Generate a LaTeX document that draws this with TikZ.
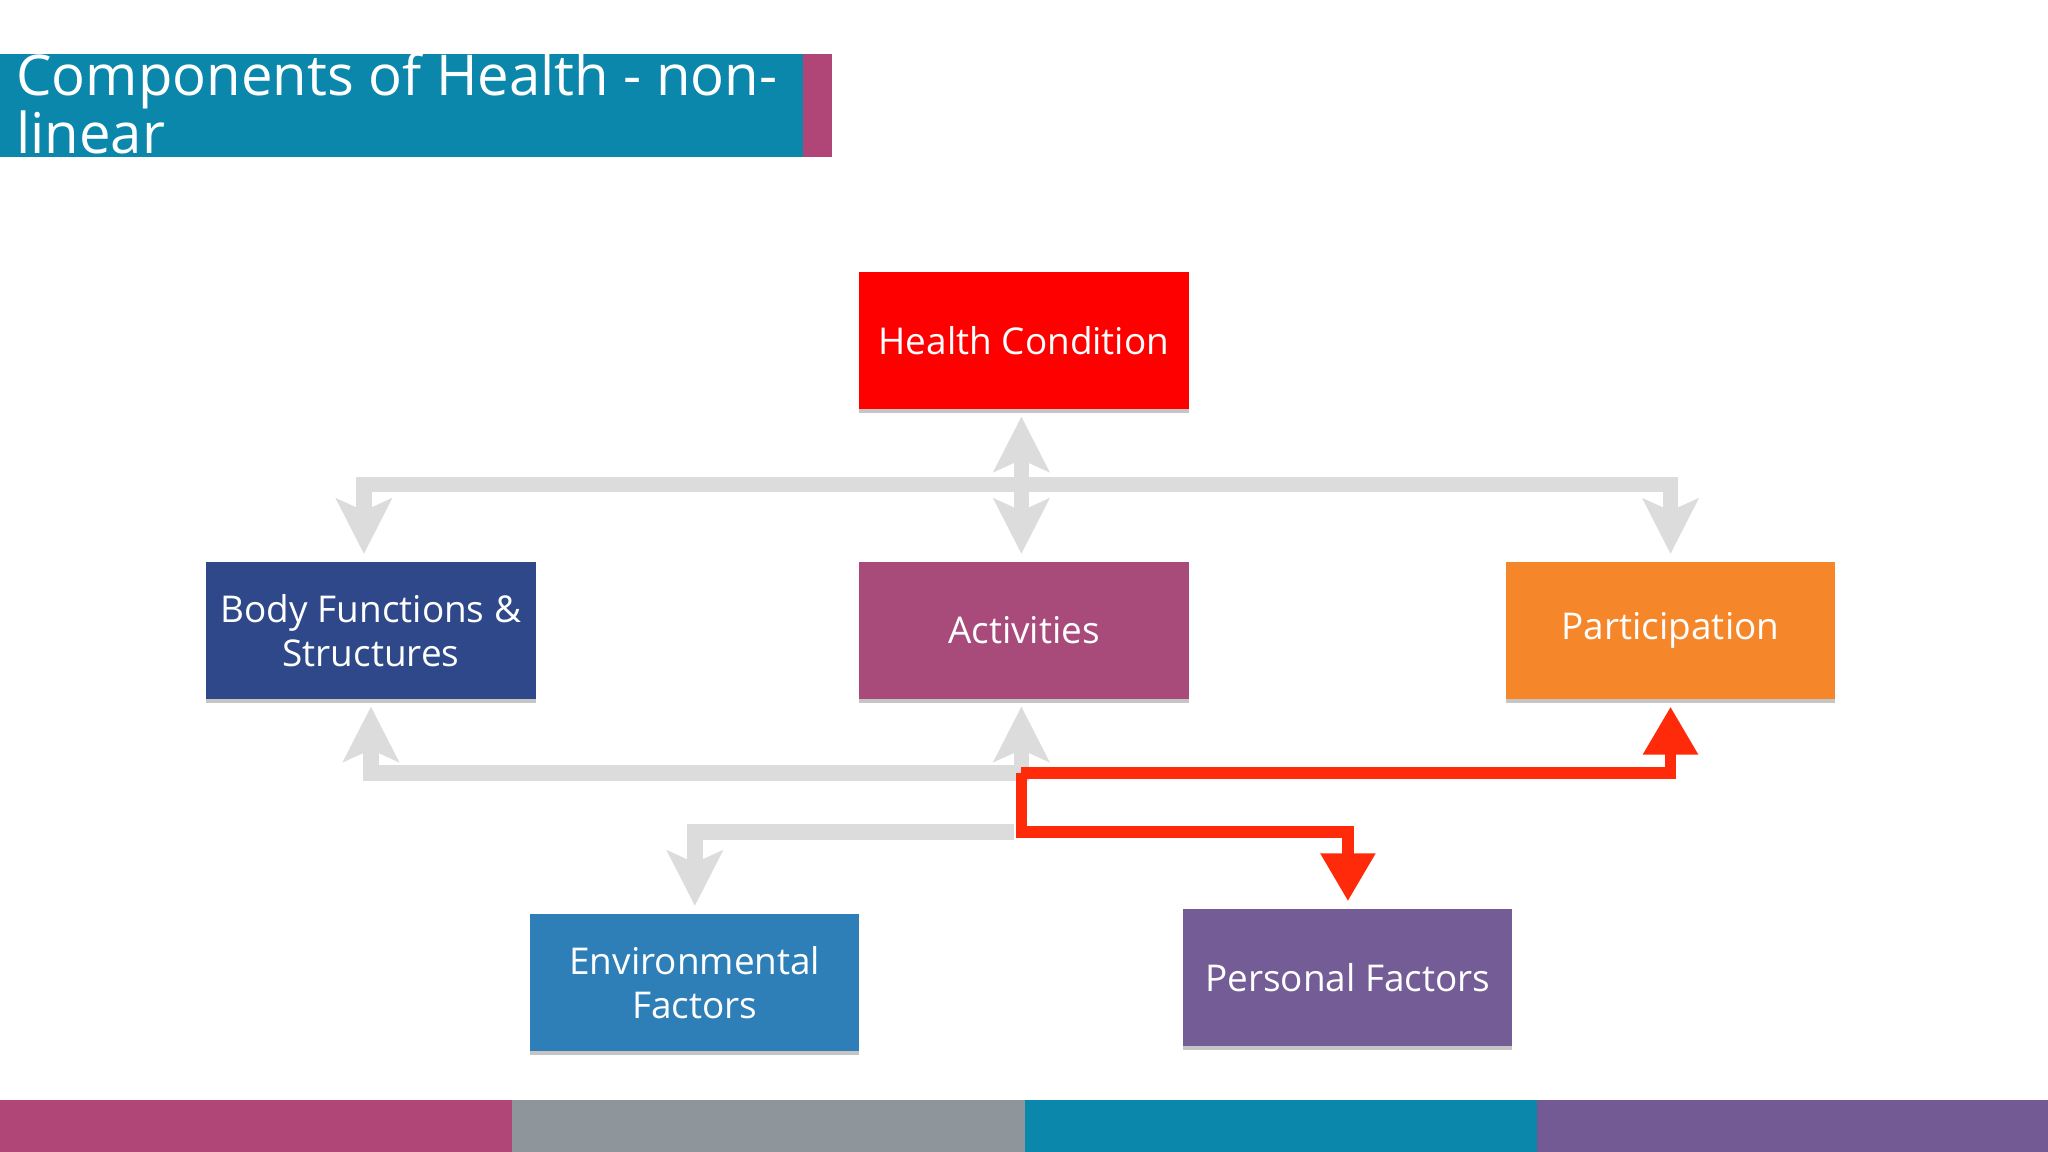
\documentclass[tikz,border=0pt]{standalone}
\usepackage{fontspec}
\setmainfont{Open Sans}
\usetikzlibrary{arrows.meta,shadows}
\definecolor{teal1}{HTML}{0A87AA}
\definecolor{pink1}{HTML}{B04577}
\definecolor{grey1}{HTML}{8E969C}
\definecolor{purp1}{HTML}{735A94}
\definecolor{conn}{HTML}{DCDCDC}
\definecolor{redc}{HTML}{FF2A0A}
\tikzset{
 box/.style={minimum width=252*0.013061cm, minimum height=105*0.013061cm, text=white, font=\fontsize{10.5}{12.5}\selectfont, align=center, inner sep=0pt, drop shadow={shadow xshift=0pt, shadow yshift=-1.2pt, opacity=.45}},
 gc/.style={draw=conn, line width=12*0.013061cm, -{Stealth[length=0.55cm,width=0.55cm,inset=0.12cm]}, shorten >=2pt, shorten <=2pt},
 gcb/.style={gc, {Stealth[length=0.55cm,width=0.55cm,inset=0.12cm]}-{Stealth[length=0.55cm,width=0.55cm,inset=0.12cm]}},
 rc/.style={draw=redc, line width=9*0.013061cm, -{Triangle[length=0.48cm,width=0.52cm]}, shorten >=2pt},
}
\begin{document}
\begin{tikzpicture}[x=0.013061cm,y=-0.013061cm]
\fill[white!97!black!20] (0,0) rectangle (1568,882);
\fill[white] (0,0) rectangle (1568,882);
% title
\fill[teal1] (0,41) rectangle (615,120);
\fill[pink1] (615,41) rectangle (637,120);
\node[anchor=north west, text=white, align=left, inner sep=0pt, font=\fontsize{16}{16.5}\selectfont] (title) at (12,40) {Components of Health - non-\\linear};
% bottom bars
\fill[pink1] (0,842) rectangle (392,882);
\fill[grey1] (392,842) rectangle (785,882);
\fill[teal1] (785,842) rectangle (1177,882);
\fill[purp1] (1177,842) rectangle (1568,882);
% boxes
\node[box, fill={rgb,255:red,255;green,0;blue,0}] (hc) at (784,260.5) {Health Condition};
\node[box, fill={rgb,255:red,46;green,72;blue,138}] (bf) at (284,482.5) {Body Functions \&\\Structures};
\node[box, fill={rgb,255:red,168;green,75;blue,122}] (act) at (784,482.5) {Activities};
\node[box, fill={rgb,255:red,245;green,134;blue,42}] (par) at (1279,482.5) {Participation};
\node[box, fill={rgb,255:red,46;green,127;blue,184}] (env) at (532,752) {Environmental\\Factors};
\node[box, fill={rgb,255:red,116;green,92;blue,150}] (pf) at (1032,748.5) {Personal Factors};
\coordinate (hj) at (782,371);
\coordinate (lj) at (782,592);
\coordinate (lj2) at (782,637);
% grey connectors
\draw[gcb] (hc.south -| hj) -- (act.north -| hj);
\draw[gcb] ([xshift=-2]bf.north) |- (hj) -| (par.north);
\draw[gcb] (bf.south) |- (lj) -- (act.south -| lj);
\draw[gc] (lj2) -| (env.north);
% red connectors
\draw[rc] (lj) -| (par.south);
\draw[rc] (lj) -- (lj2) -| (pf.north);
\end{tikzpicture}
\end{document}
